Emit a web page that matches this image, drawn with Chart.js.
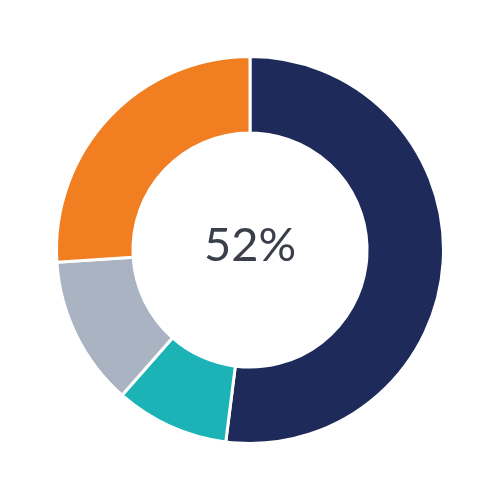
<!DOCTYPE html>
<html>
<head>
<meta charset="utf-8">
<script src="https://cdn.jsdelivr.net/npm/chart.js@4/dist/chart.umd.min.js"></script>
<style>
  html, body { margin: 0; padding: 0; background: #fff; }
  #wrap { width: 500px; height: 500px; }
</style>
</head>
<body>
<div id="wrap"><canvas id="chart" width="500" height="500"></canvas></div>
<script>
const labels = ["A", "B", "C", "D"]
const values = [52, 9.5, 12.5, 26]
const colors = ["#1e2b5a", "#1cb3b7", "#a9b3c1", "#f17f22"]
const centerLabel = "52%"

const centerText = {
  id: "centerText",
  afterDraw(chart) {
    const { ctx } = chart
    const meta = chart.getDatasetMeta(0).data[0]
    if (!meta) return
    ctx.save()
    ctx.font = "47px Lato, 'Open Sans', sans-serif"
    ctx.fillStyle = "#3a3f4b"
    ctx.textAlign = "center"
    ctx.textBaseline = "middle"
    ctx.fillText(centerLabel, meta.x, meta.y - 4)
    ctx.restore()
  }
}

new Chart(document.getElementById("chart"), {
  type: "doughnut",
  data: {
    labels: labels,
    datasets: [{
      data: values,
      backgroundColor: colors,
      borderColor: "#ffffff",
      borderWidth: 3
    }]
  },
  options: {
    responsive: false,
    animation: false,
    cutout: "60.5%",
    layout: { padding: 55 },
    plugins: {
      legend: { display: false },
      tooltip: { enabled: false }
    }
  },
  plugins: [centerText]
})
</script>
</body>
</html>
